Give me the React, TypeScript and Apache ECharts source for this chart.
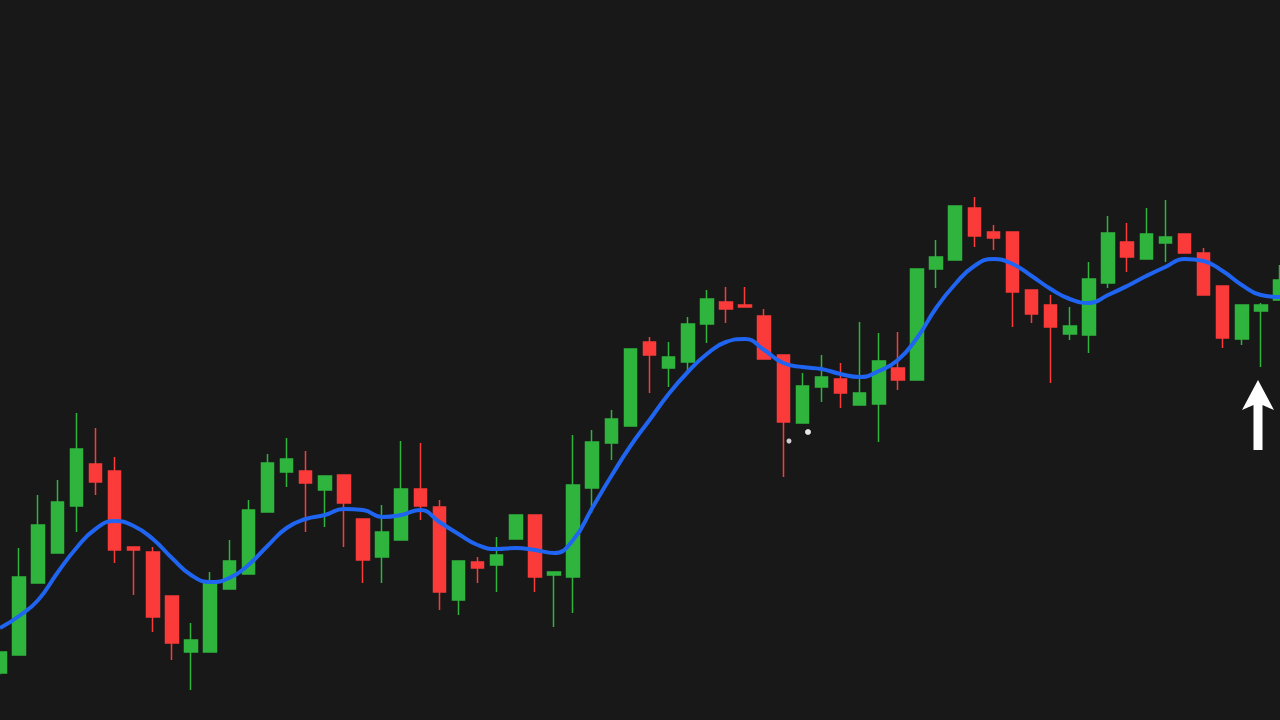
import React, { useEffect, useRef } from "react";
import * as echarts from "echarts";

// Candle index labels (sessions)
const sessions: string[] = Array.from({ length: 68 }, (_, i) => `D${i + 1}`);

// OHLC values: [open, close, low, high]
const opens = [104.7,106.5,113.7,116.7,121.4,125.6,124.9,117.3,116.8,112.4,106.8,106.8,113.1,114.6,120.8,124.8,124.9,123.0,124.5,120.1,116.3,118.0,123.1,121.3,112.0,115.8,115.5,118.1,120.5,114.5,114.3,123.2,127.7,129.4,137.8,135.2,135.8,139.6,141.8,141.5,140.4,136.5,129.7,133.3,134.1,131.5,131.6,135.2,134.0,145.1,146.0,151.2,148.8,148.8,143.0,141.5,138.6,138.5,143.7,147.8,146.1,147.7,148.6,146.7,143.4,138.1,140.9,142.0];
const closes = [106.8,114.3,119.5,121.8,127.1,123.8,117.0,117.0,110.3,107.7,108.0,113.7,115.9,121.0,125.7,126.1,123.7,124.4,121.7,116.0,118.8,123.1,121.4,112.8,115.9,115.2,116.5,120.5,114.3,114.8,123.5,127.8,130.1,137.1,136.5,136.3,139.6,142.1,141.1,141.3,136.1,129.8,133.4,134.3,132.7,132.7,135.9,134.0,145.1,146.3,151.4,148.4,148.2,142.8,140.6,139.3,139.4,144.1,148.7,146.3,148.6,148.3,146.7,142.5,138.2,141.5,141.5,144.0];
const lows = [104.5,106.5,113.7,116.7,118.8,122.5,115.7,112.5,108.8,106.0,103.0,106.8,113.1,114.6,120.8,123.3,118.8,119.3,117.3,113.7,113.7,118.0,120.0,111.0,110.5,113.7,112.8,118.1,112.8,109.3,110.7,120.7,126.0,129.4,132.7,133.3,134.8,137.7,139.7,141.3,136.1,124.3,129.7,131.8,131.2,131.5,127.8,133.0,134.0,143.2,146.0,147.3,147.0,139.3,139.7,133.7,138.0,136.7,143.2,144.8,146.1,145.8,146.7,142.5,137.2,137.5,135.3,142.0];
const highs = [106.8,117.2,122.5,124.0,130.7,129.2,126.3,117.3,117.3,112.4,109.7,114.8,118.0,122.0,126.6,128.2,126.9,124.4,124.5,120.1,121.5,127.9,127.7,122.0,115.9,116.3,118.3,120.5,120.5,114.8,128.5,129.0,131.0,137.1,138.3,137.8,140.3,143.0,143.3,143.3,141.1,136.5,134.7,136.5,135.7,139.8,138.7,138.8,145.1,148.0,151.4,152.3,149.5,148.8,143.0,142.5,141.3,145.8,150.4,149.7,151.2,152.0,148.6,147.2,143.4,141.5,141.7,145.5];

// Moving-average line
const maValues = [109.2,110.4,112.0,114.7,117.2,119.1,119.9,119.4,118.1,116.2,114.5,113.8,114.2,115.5,117.4,119.2,120.1,120.5,121.1,121.0,120.3,120.5,121.0,119.8,118.6,117.5,117.1,117.2,117.0,116.7,118.0,121.2,124.4,127.4,130.0,132.6,134.8,136.6,137.8,138.1,137.0,135.7,135.3,135.1,134.6,134.3,134.9,136.0,138.2,141.2,143.6,145.4,146.1,145.6,144.4,143.1,142.1,141.7,142.5,143.4,144.4,145.3,146.1,145.9,144.9,143.5,142.5,142.3];

const GREEN = "#2fb53e";
const RED = "#fb3a3a";

export default function App() {
  const ref = useRef<HTMLDivElement>(null);

  useEffect(() => {
    if (!ref.current) return;
    const chart = echarts.init(ref.current, undefined, { renderer: "svg" });
    const candles = opens.map((o, i) => [o, closes[i], lows[i], highs[i]]);
    chart.setOption({
      animation: false,
      backgroundColor: "#181818",
      grid: { left: -1, right: -2, top: 0, bottom: 0 },
      xAxis: {
        type: "category",
        data: sessions,
        boundaryGap: false,
        show: false,
      },
      yAxis: {
        type: "value",
        min: 100,
        max: 172,
        show: false,
        splitLine: { show: false },
      },
      series: [
        {
          type: "candlestick",
          data: candles,
          barWidth: 13,
          itemStyle: {
            color: GREEN,
            color0: RED,
            borderColor: GREEN,
            borderColor0: RED,
            borderWidth: 1.5,
          },
          z: 2,
        },
        {
          type: "line",
          data: maValues,
          smooth: 0.5,
          symbol: "none",
          lineStyle: { color: "#1f65f2", width: 4 },
          z: 3,
        },
      ],
      graphic: [
        {
          type: "polygon",
          shape: {
            points: [
              [1258, 380],
              [1274, 410],
              [1262.5, 405],
              [1262.5, 450],
              [1253.5, 450],
              [1253.5, 405],
              [1242, 410],
            ],
          },
          style: { fill: "#ffffff" },
          z: 10,
        },
        { type: "circle", shape: { cx: 789, cy: 441, r: 2.5 }, style: { fill: "#cfcfcf" }, z: 10 },
        { type: "circle", shape: { cx: 808, cy: 432, r: 3 }, style: { fill: "#e6e6e6" }, z: 10 },
      ],
    });
    return () => chart.dispose();
  }, []);

  return (
    <div
      ref={ref}
      style={{ position: "fixed", left: 0, top: 0, width: 1280, height: 720 }}
    />
  );
}
